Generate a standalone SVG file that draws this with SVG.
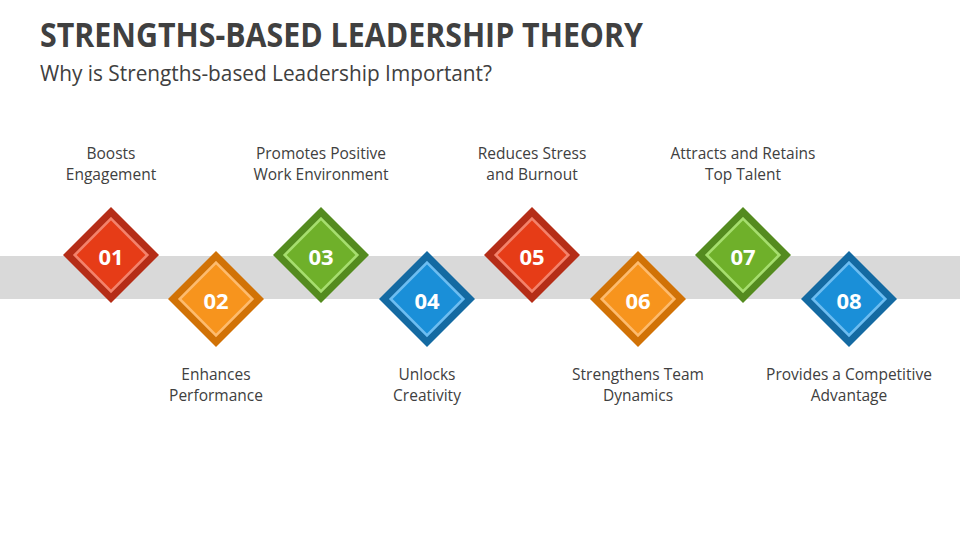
<svg xmlns="http://www.w3.org/2000/svg" width="960" height="540" viewBox="0 0 960 540">
<defs>
<style>
.title{font-family:"Open Sans","Liberation Sans",sans-serif;font-weight:700;font-size:34px;fill:#404040}
.sub{font-family:"Open Sans","Liberation Sans",sans-serif;font-size:21px;fill:#404040}
.lbl{font-family:"Open Sans","Liberation Sans",sans-serif;font-size:15.5px;fill:#404040;text-anchor:middle}
.num{font-family:"Open Sans","Liberation Sans",sans-serif;font-weight:700;font-size:22px;fill:#ffffff;text-anchor:middle}
.inner{stroke-width:2.6}
.red .outer{fill:#B52D17}.red .inner{fill:#E63C17;stroke:#F3826B}
.orange .outer{fill:#D17206}.orange .inner{fill:#F7941D;stroke:#FDBB6E}
.green .outer{fill:#548B1F}.green .inner{fill:#6FB02A;stroke:#A6DE6E}
.blue .outer{fill:#146AA2}.blue .inner{fill:#1A8FD8;stroke:#6DBDF1}
</style>
</defs>
<rect width="960" height="540" fill="#ffffff"/>
<text class="title" x="40" y="47" textLength="603" lengthAdjust="spacingAndGlyphs">STRENGTHS-BASED LEADERSHIP THEORY</text>
<text class="sub" x="40" y="81" textLength="452" lengthAdjust="spacingAndGlyphs">Why is Strengths-based Leadership Important?</text>
<rect id="band" x="0" y="256" width="960" height="43" fill="#D9D9D9"/>
<g id="connectors"></g>
<g id="node1" class="red"><g transform="translate(111,255)"><polygon class="outer" points="0,-48 48,0 0,48 -48,0"/><polygon class="inner" points="0,-36.3 36.3,0 0,36.3 -36.3,0"/></g><text class="num" x="111" y="265">01</text><text class="lbl" x="111" y="159">Boosts</text><text class="lbl" x="111" y="180">Engagement</text></g>
<g id="node2" class="orange"><g transform="translate(216,299)"><polygon class="outer" points="0,-48 48,0 0,48 -48,0"/><polygon class="inner" points="0,-36.3 36.3,0 0,36.3 -36.3,0"/></g><text class="num" x="216" y="309">02</text><text class="lbl" x="216" y="380">Enhances</text><text class="lbl" x="216" y="401">Performance</text></g>
<g id="node3" class="green"><g transform="translate(321,255)"><polygon class="outer" points="0,-48 48,0 0,48 -48,0"/><polygon class="inner" points="0,-36.3 36.3,0 0,36.3 -36.3,0"/></g><text class="num" x="321" y="265">03</text><text class="lbl" x="321" y="159">Promotes Positive</text><text class="lbl" x="321" y="180">Work Environment</text></g>
<g id="node4" class="blue"><g transform="translate(427,299)"><polygon class="outer" points="0,-48 48,0 0,48 -48,0"/><polygon class="inner" points="0,-36.3 36.3,0 0,36.3 -36.3,0"/></g><text class="num" x="427" y="309">04</text><text class="lbl" x="427" y="380">Unlocks</text><text class="lbl" x="427" y="401">Creativity</text></g>
<g id="node5" class="red"><g transform="translate(532,255)"><polygon class="outer" points="0,-48 48,0 0,48 -48,0"/><polygon class="inner" points="0,-36.3 36.3,0 0,36.3 -36.3,0"/></g><text class="num" x="532" y="265">05</text><text class="lbl" x="532" y="159">Reduces Stress</text><text class="lbl" x="532" y="180">and Burnout</text></g>
<g id="node6" class="orange"><g transform="translate(638,299)"><polygon class="outer" points="0,-48 48,0 0,48 -48,0"/><polygon class="inner" points="0,-36.3 36.3,0 0,36.3 -36.3,0"/></g><text class="num" x="638" y="309">06</text><text class="lbl" x="638" y="380">Strengthens Team</text><text class="lbl" x="638" y="401">Dynamics</text></g>
<g id="node7" class="green"><g transform="translate(743,255)"><polygon class="outer" points="0,-48 48,0 0,48 -48,0"/><polygon class="inner" points="0,-36.3 36.3,0 0,36.3 -36.3,0"/></g><text class="num" x="743" y="265">07</text><text class="lbl" x="743" y="159">Attracts and Retains</text><text class="lbl" x="743" y="180">Top Talent</text></g>
<g id="node8" class="blue"><g transform="translate(849,299)"><polygon class="outer" points="0,-48 48,0 0,48 -48,0"/><polygon class="inner" points="0,-36.3 36.3,0 0,36.3 -36.3,0"/></g><text class="num" x="849" y="309">08</text><text class="lbl" x="849" y="380">Provides a Competitive</text><text class="lbl" x="849" y="401">Advantage</text></g>
</svg>
